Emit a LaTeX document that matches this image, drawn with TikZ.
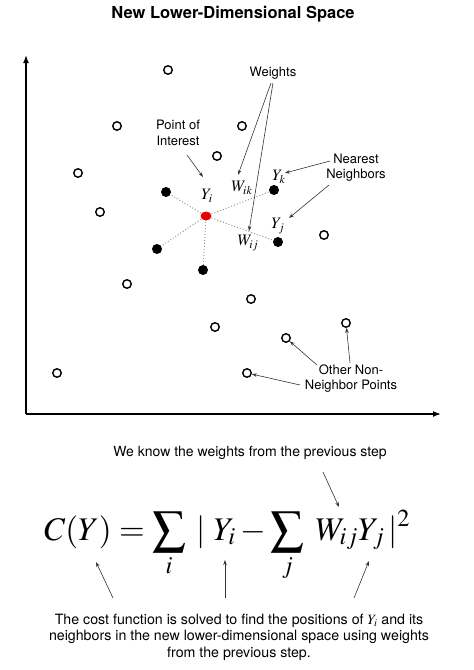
\documentclass[tikz,border=0pt]{standalone}
\usepackage{mathptmx}
\usepackage[no-math]{fontspec}
\setmainfont{TeX Gyre Heros}
\usetikzlibrary{arrows.meta,shapes.geometric}
\begin{document}
\begin{tikzpicture}[x=1pt,y=-1pt,
  open/.style={circle,draw=black,line width=1.4pt,fill=white,minimum size=8.5pt,inner sep=0pt},
  blk/.style={circle,fill=black,minimum size=10pt,inner sep=0pt},
  redpt/.style={ellipse,fill=red!90!black,minimum width=11pt,minimum height=9pt,inner sep=0pt},
  link/.style={draw=black!40,line width=1pt,dash pattern=on 1pt off 2pt},
  lbl/.style={font=\fontsize{13}{15.5}\selectfont,align=center,inner sep=0pt},
  mlbl/.style={font=\fontsize{16}{18}\selectfont,inner sep=0pt},
  ann/.style={draw=black!80,line width=0.6pt,-{Stealth[length=5pt,width=3.5pt]}},
  axis/.style={draw=black,line width=1.5pt,-{Latex[length=8pt,width=6pt]}}]
\useasboundingbox (0,0) rectangle (474,670);
% title
\node[font=\bfseries\fontsize{16.5}{19}\selectfont] (title) at (233,14) {New Lower-Dimensional Space};
% axes
\coordinate (origin) at (26,414);
\coordinate (ytop) at (26,55);
\coordinate (xend) at (441,414);
\draw[axis] (origin) -- (ytop);
\draw[axis] (origin) -- (xend);
% dotted links
\coordinate (yic) at (206,216);
\node[blk] (n1) at (166,192) {};
\node[blk] (n2) at (274,190) {};
\node[blk] (n3) at (157,249) {};
\node[blk] (n4) at (278,242) {};
\node[blk] (n5) at (203,270) {};
\foreach \n in {n1,n2,n3,n4,n5} \draw[link] (yic) -- (\n);
\node[redpt] (yi) at (yic) {};
% open points
\node[open] (p1) at (168,70) {};
\node[open] (p2) at (117,126) {};
\node[open] (p3) at (242,126) {};
\node[open] (p4) at (217,156) {};
\node[open] (p5) at (78,173) {};
\node[open] (p6) at (100,212) {};
\node[open] (p7) at (324,235) {};
\node[open] (p8) at (127,284) {};
\node[open] (p9) at (251,299) {};
\node[open] (p10) at (215,327) {};
\node[open] (p11) at (286,338) {};
\node[open] (p12) at (346,323) {};
\node[open] (p13) at (57,373) {};
\node[open] (p14) at (247,373) {};
% math labels
\node[mlbl] (lyi) at (207,196) {$Y_i$};
\node[mlbl] (lyk) at (279,177) {$Y_k$};
\node[mlbl] (lyj) at (278,226) {$Y_j$};
\node[mlbl] (lwik) at (242,188) {$W_{ik}$};
\node[mlbl] (lwij) at (248,243) {$W_{ij}$};
% text labels
\node[lbl] (weights) at (273,73) {Weights};
\node[lbl] (poi) at (178,133) {Point of\\Interest};
\node[lbl] (nn) at (356,167.5) {Nearest\\Neighbors};
\node[lbl] (other) at (351,378.5) {Other Non-\\Neighbor Points};
% annotation arrows
\coordinate (w1) at (271,83);
\coordinate (w2) at (273,83);
\coordinate (wikend) at (238,175);
\coordinate (wijend) at (249,231);
\draw[ann] (w1) -- (wikend);
\draw[ann] (w2) -- (wijend);
\coordinate (poistart) at (187,155);
\coordinate (poiend) at (203,177);
\draw[ann] (poistart) -- (poiend);
\coordinate (nn1s) at (330,161);
\coordinate (nn1e) at (285,173);
\coordinate (nn2s) at (329,185);
\coordinate (nn2e) at (289,218);
\draw[ann] (nn1s) -- (nn1e);
\draw[ann] (nn2s) -- (nn2e);
\coordinate (o1s) at (317,365);
\coordinate (o2s) at (350,363);
\coordinate (o3s) at (300,385);
\draw[ann] (o1s) -- (p11);
\draw[ann] (o2s) -- (p12);
\draw[ann] (o3s) -- (p14);
% formula
\node[lbl,font=\fontsize{14}{16}\selectfont] (know) at (250,453) {We know the weights from the previous step};
\node[font=\fontsize{33}{38}\selectfont,inner sep=0pt,anchor=base west] (formula) at (44,540)
  {$\displaystyle C(Y) = \sum_i \;|\;Y_i - \sum_j \;W_{ij} Y_j\,|^2$};
\coordinate (k1) at (323,472);
\coordinate (k2) at (339,507);
\draw[ann] (k1) -- (k2);
\coordinate (b1s) at (113,598);
\coordinate (b1e) at (96,562);
\coordinate (b2s) at (225,598);
\coordinate (b2e) at (225,560);
\coordinate (b3s) at (354,598);
\coordinate (b3e) at (369,561);
\draw[ann] (b1s) -- (b1e);
\draw[ann] (b2s) -- (b2e);
\draw[ann] (b3s) -- (b3e);
\node[lbl,font=\fontsize{14.2}{16.5}\selectfont] (cost) at (239,637) {The cost function is solved to find the positions of $Y_i$ and its\\neighbors in the new lower-dimensional space using weights\\from the previous step.};
\end{tikzpicture}
\end{document}
